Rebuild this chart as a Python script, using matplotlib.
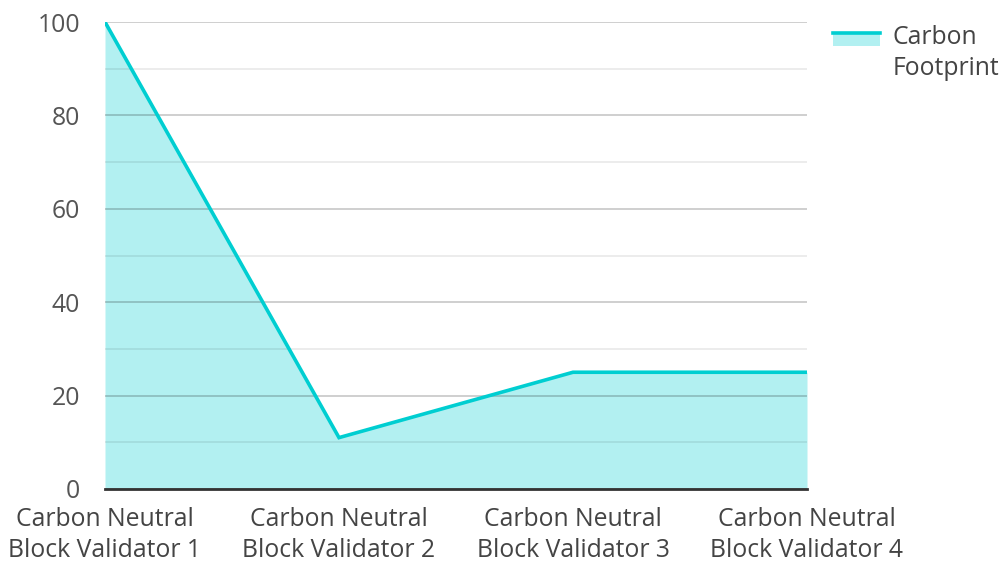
import matplotlib
matplotlib.use("Agg")
import matplotlib.pyplot as plt
from matplotlib.legend_handler import HandlerBase
from matplotlib.patches import Rectangle
from matplotlib.lines import Line2D

plt.rcParams['font.family'] = ['Open Sans', 'DejaVu Sans']

validators = ["Carbon Neutral\nBlock Validator 1", "Carbon Neutral\nBlock Validator 2",
              "Carbon Neutral\nBlock Validator 3", "Carbon Neutral\nBlock Validator 4"]
footprint = [100, 11, 25, 25]
y_ticks = [0, 20, 40, 60, 80, 100]

line_color = "#00CED1"
fill_color = "#B2F0F1"
fs = 17.8


class AreaHandler(HandlerBase):
    # swatch: light block with the series line along its top edge,
    # lifted to sit beside the first line of the label
    def create_artists(self, legend, orig_handle, xdescent, ydescent,
                       width, height, fontsize, trans):
        lift = 0.62 * fontsize
        y0 = -ydescent + lift
        rect = Rectangle((-xdescent, y0 + height * 0.05), width, height * 0.72,
                         facecolor=fill_color, edgecolor="none", transform=trans)
        ln = Line2D([-xdescent, -xdescent + width], [y0 + height * 0.8] * 2,
                    color=line_color, lw=2.6, transform=trans)
        return [rect, ln]


fig = plt.figure(figsize=(10.04, 5.63), dpi=100)
ax = fig.add_axes([105 / 1004, 1 - 489 / 563, (807 - 105) / 1004, (489 - 22) / 563])

x = list(range(len(validators)))
area = ax.fill_between(x, footprint, 0, color=fill_color, lw=0, zorder=1)
ax.plot(x, footprint, color=line_color, lw=2.6, zorder=3, solid_joinstyle="miter")

ax.set_xlim(0, len(validators) - 1)
ax.set_ylim(0, 100)
ax.set_yticks(y_ticks)
ax.set_yticks(range(10, 100, 20), minor=True)
ax.set_xticks(x)
ax.set_xticklabels(validators, fontsize=fs, color="#444444", linespacing=1.32)
ax.tick_params(axis="y", labelsize=fs, labelcolor="#555555", length=0, pad=18)
ax.tick_params(axis="x", length=0, pad=13)
ax.tick_params(which="minor", length=0)

ax.grid(True, axis="y", which="major", color="#000000", alpha=0.22, lw=1.2, zorder=2)
ax.grid(True, axis="y", which="minor", color="#000000", alpha=0.09, lw=1.2, zorder=2)
ax.set_axisbelow(False)

for side in ["top", "right", "left"]:
    ax.spines[side].set_visible(False)
ax.spines["bottom"].set_color("#333333")
ax.spines["bottom"].set_linewidth(2)
ax.spines["bottom"].set_zorder(4)

leg = ax.legend([area], ["Carbon\nFootprint"], handler_map={type(area): AreaHandler()},
                loc="upper left", bbox_to_anchor=(833 / 1004, 1 - 25 / 563),
                bbox_transform=fig.transFigure, frameon=False, fontsize=fs,
                labelcolor="#444444", handlelength=1.9, handletextpad=0.5,
                borderaxespad=0, borderpad=0)
leg.get_texts()[0].set_linespacing(1.32)

plt.savefig("out.png", dpi=100)
